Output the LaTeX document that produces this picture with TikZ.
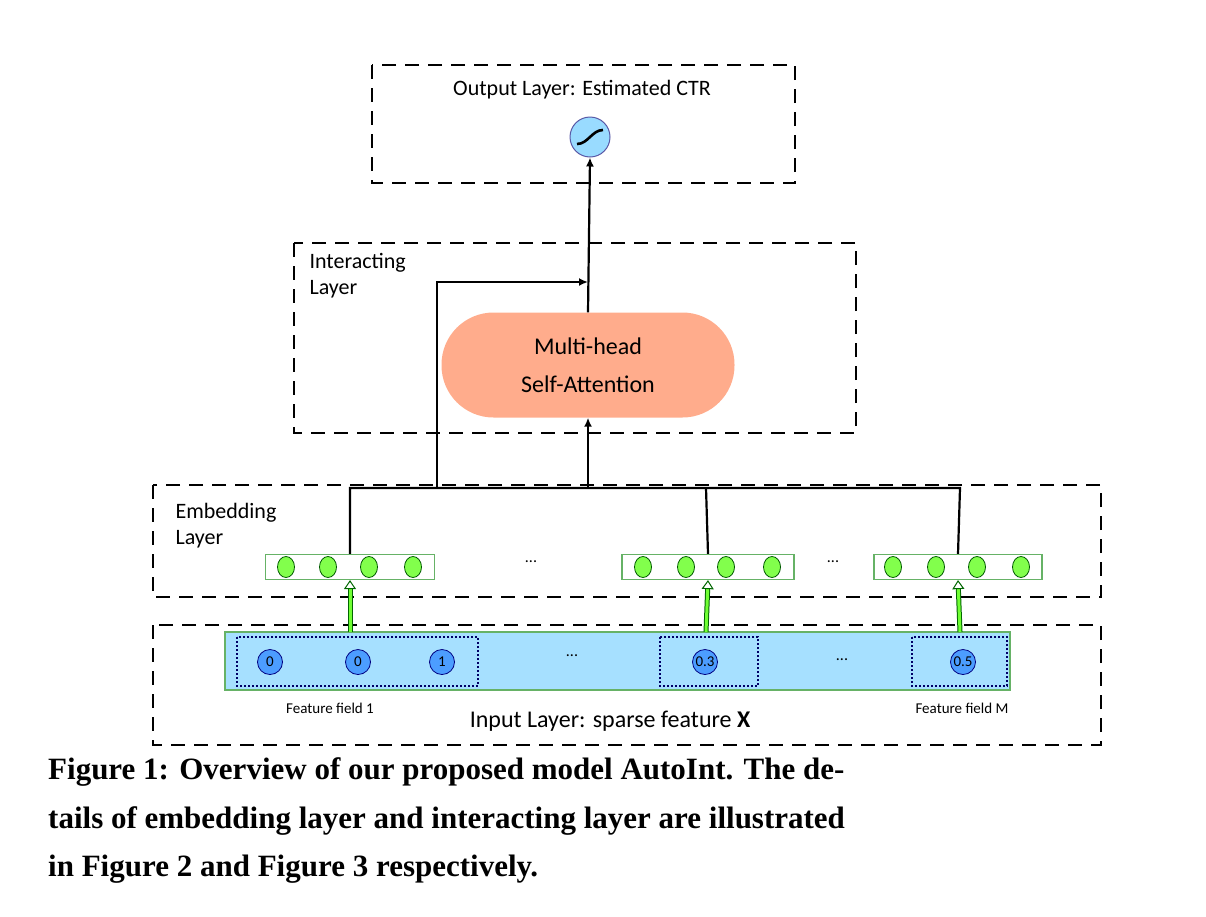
\documentclass[tikz,border=0pt]{standalone}
\usepackage{fontspec}
\setmainfont{Carlito}
\newfontfamily\capfont{Liberation Serif}
\usetikzlibrary{arrows.meta,shapes.geometric}
\begin{document}
\begin{tikzpicture}[x=1pt,y=-1pt,
  dbox/.style={draw,line width=2.6pt,dash pattern=on 14pt off 9pt},
  ln/.style={line width=2.2pt},
  arr/.style={ln,-{Latex[length=9pt,width=8pt]}},
  emb/.style={draw=green!50!black!60,fill=white,line width=1.2pt},
  ec/.style={ellipse,draw=green!35!black,fill=green!60!lime!70!white,line width=0.8pt,minimum width=17pt,minimum height=21pt,inner sep=0pt},
  ic/.style={circle,draw=blue!50!black,fill=blue!55!cyan!70!white,line width=0.8pt,minimum size=25pt,inner sep=0pt,font=\fontsize{15}{15}\selectfont},
  dot/.style={draw=blue!40!black,line width=2pt,dash pattern=on 2pt off 2pt},
  garr/.style={double=green!60!lime!80!white,draw=green!40!black,double distance=3pt,line width=1pt,-{Triangle[open,length=9pt,width=12pt]}},
  txt/.style={font=\fontsize{22}{26}\selectfont,align=left},
  captxt/.style={font=\capfont\bfseries\fontsize{31}{31}\selectfont,anchor=west,inner sep=0pt}]
\useasboundingbox (0,0) rectangle (1206,916);
% boxes
\draw[dbox] (372,65) rectangle (795,183);
\draw[dbox] (294,243) rectangle (856,433);
\draw[dbox] (153,485) rectangle (1101,597);
\draw[dbox] (153,625) rectangle (1101,745);
\node[txt] (otxt) at (582,90) {Output Layer: Estimated CTR};
\node[circle,draw=gray!70!blue,fill=blue!35!cyan!40!white,line width=1pt,minimum size=40pt,inner sep=0pt] (sig) at (590,137) {};
\draw[line width=2.6pt] (577,144) .. controls (588,144) and (592,130) .. (603,130);
\node[txt,anchor=north west] (itxt) at (306,250) {Interacting\\Layer};
\node[draw=none,fill=orange!55!red!45!white,rounded corners=52pt,minimum width=293pt,minimum height=105pt,align=center,font=\fontsize{24}{38}\selectfont] (mhsa) at (588,365) {Multi-head\\Self-Attention};
\draw[arr] (mhsa.north) -- (sig.south);
\coordinate (bus) at (588,488);
\draw[arr] (bus) -- (mhsa.south);
\coordinate (sk1) at (437,488);
\coordinate (sk2) at (437,282);
\coordinate (sk3) at (588,282);
\draw[arr] (sk1) -- (sk2) -- (sk3);
\node[txt,anchor=north west] (etxt) at (172,500) {Embedding\\Layer};
% embeddings
\node[emb,minimum width=169pt,minimum height=25pt] (e1) at (350,567) {};
\node[emb,minimum width=172pt,minimum height=25pt] (e2) at (708,567) {};
\node[emb,minimum width=168pt,minimum height=25pt] (e3) at (958,567) {};
\foreach \x in {286,328,369,413,643,686,726,772,893,936,977,1021} \node[ec] at (\x,567) {};
\node[font=\fontsize{16}{16}\selectfont] (d1) at (531,562) {...};
\node[font=\fontsize{16}{16}\selectfont] (d2) at (833,562) {...};
\coordinate (b1) at (350,488);
\coordinate (b3) at (960,488);
\coordinate (b2) at (706,488);
\draw[ln] (e1.north) -- (b1) -- (b3) -- (e3.north);
\draw[ln] (b2) -- (e2.north);
% input
\node[draw=green!50!black!60,fill=blue!35!cyan!35!white,line width=1.5pt,minimum width=785pt,minimum height=58pt] (bar) at (617.5,661) {};
\draw[dot] (237,637) rectangle (478,686);
\draw[dot] (660,637) rectangle (758,686);
\draw[dot] (912,637) rectangle (1007,686);
\node[ic] (i1) at (270,662) {0};
\node[ic] (i2) at (358,662) {0};
\node[ic] (i3) at (442,662) {1};
\node[ic] (i4) at (705,662) {0.3};
\node[ic] (i5) at (963,662) {0.5};
\node[font=\fontsize{16}{16}\selectfont] at (572,656) {...};
\node[font=\fontsize{16}{16}\selectfont] at (842,660) {...};
\draw[garr] (350,632) -- (e1.south);
\draw[garr] (706,632) -- (e2.south);
\draw[garr] (960,632) -- (e3.south);
\node[font=\fontsize{15}{15}\selectfont] at (330,708) {Feature field 1};
\node[font=\fontsize{15}{15}\selectfont] at (962,708) {Feature field M};
\node[font=\fontsize{24}{24}\selectfont] at (610,721) {Input Layer: sparse feature \textbf{X}};
% caption
\node[captxt] at (48,772) {Figure 1: Overview of our proposed model AutoInt. The de-};
\node[captxt] at (48,821) {tails of embedding layer and interacting layer are illustrated};
\node[captxt] at (48,869) {in Figure 2 and Figure 3 respectively.};
\end{tikzpicture}
\end{document}
